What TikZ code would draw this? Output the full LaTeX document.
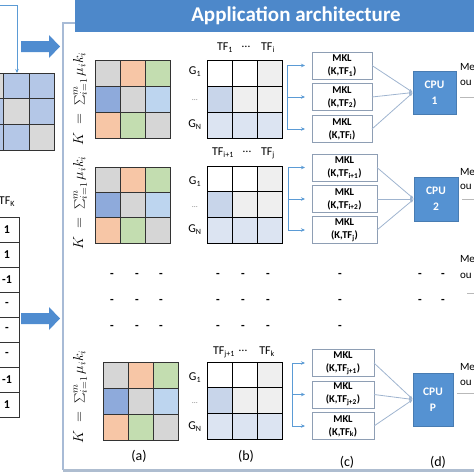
\documentclass[tikz,border=0pt]{standalone}
\usepackage{fontspec}
\setmainfont{Carlito}
\usetikzlibrary{arrows.meta}
\definecolor{barblue}{HTML}{4D88CA}
\definecolor{cpublue}{HTML}{5592D2}
\definecolor{arrowblue}{HTML}{4F8CD0}
\definecolor{framec}{HTML}{A8BBD6}
\definecolor{framebot}{HTML}{AEBDD0}
\definecolor{cgray}{HTML}{D6D6D6}
\definecolor{corange}{HTML}{F7C6A6}
\definecolor{cgreen}{HTML}{C3DDB0}
\definecolor{cblue}{HTML}{8EAADB}
\definecolor{clblue}{HTML}{BDD5EF}
\definecolor{tgray}{HTML}{EFEFEF}
\definecolor{tblue}{HTML}{C8D5EA}
\definecolor{tlblue}{HTML}{DCE4F2}
\definecolor{lgray}{HTML}{D9D9D9}
\definecolor{lblue}{HTML}{B4C7E7}
\definecolor{linkc}{HTML}{5B9BD5}
\definecolor{convc}{HTML}{9FB4CF}
\definecolor{mklc}{HTML}{8E9EB4}
\newcommand\mygrid[6]{%
  \foreach \cl [count=\n from 0] in #5{%
    \pgfmathtruncatemacro\cc{mod(\n,3)}%
    \pgfmathtruncatemacro\rr{div(\n,3)}%
    \filldraw[fill=\cl, draw=#6, line width=0.9pt] ({#1+\cc*#3},{#2+\rr*#4}) rectangle ++(#3,#4);
  }%
}
\def\kcols{cgray,corange,cgreen,cblue,cgray,clblue,corange,cgreen,cgray}
\def\tcols{white,white,tgray,tblue,tgray,tgray,tlblue,tlblue,tlblue}
\def\lcols{lgray,lblue,lblue,lblue,lgray,lblue,lblue,lblue,lgray}
\tikzset{
  every node/.style={inner sep=0pt, outer sep=0pt},
  mkl/.style={draw=mklc, line width=0.8pt, fill=white, minimum height=27pt, align=center, font=\fontsize{10.5}{13}\selectfont\bfseries},
  cpu/.style={draw=cpublue!85!black, line width=0.6pt, fill=cpublue, text=white, align=center, font=\fontsize{11.5}{16}\selectfont\bfseries},
  lab/.style={font=\fontsize{12}{14}\selectfont},
  gdots/.style={font=\fontsize{8}{9}\selectfont, text=gray},
  capt/.style={font=\fontsize{14}{16}\selectfont},
  dashmark/.style={font=\fontsize{12}{14}\selectfont\bfseries},
  outtext/.style={anchor=west, font=\fontsize{11}{13}\selectfont},
  tabval/.style={font=\fontsize{12}{14}\selectfont\bfseries},
  feed/.style={draw=linkc, line width=0.6pt, -{Stealth[length=4pt,width=3.5pt]}, shorten >=7pt},
  brk/.style={draw=linkc, line width=0.6pt},
  conv/.style={draw=convc, line width=0.8pt, -{Latex[length=4pt,width=3pt]}},
  outl/.style={draw=gray!55, line width=0.8pt},
  formula/.style={rotate=90, font=\fontsize{14.5}{16}\selectfont},
}
\begin{document}
\begin{tikzpicture}[x=1pt,y=-1pt]
\useasboundingbox (0,0) rectangle (474,474);
\clip (0,0) rectangle (474,474);
% title bar and frame
\fill[barblue] (75,-2) rectangle (480,32);
\node[text=white, font=\fontsize{21}{24}\selectfont\bfseries] (title) at (296,16) {Application architecture};
\draw[framec, line width=1.2pt] (75,23) -- (63,23) -- (63,470);
\draw[framebot, line width=3pt] (63,470) -- (480,470);
% left part
\coordinate (lt) at (-2,5);
\coordinate (lg) at (17,73);
\draw[linkc, line width=0.7pt, -{Stealth[length=4pt,width=3.5pt]}] (lt) -| (lg);
\mygrid{-22}{73}{25.5}{25.7}{\lcols}{black!80}
\node[lab] (tfk) at (7,202) {TF\textsubscript{K}};
\foreach \v [count=\r from 0] in {1,1,-1,-,-,-,-1,1}{
  \draw[black!80, line width=0.8pt] (-30,{217+25*\r}) rectangle (19,{242+25*\r});
  \node[tabval] (tv\r) at (7,{229.5+25*\r}) {\v};
}
\fill[arrowblue] (21,41) -- (49,41) -- (49,35) -- (60,46.5) -- (49,58) -- (49,52) -- (21,52) -- cycle;
\fill[arrowblue] (21,313) -- (49,313) -- (49,307) -- (60,318.5) -- (49,330) -- (49,324) -- (21,324) -- cycle;
% ---------- row 1
\node[formula] (f1) at (80,99) {$K\;=\;\sum_{i=1}^{m}\mu_i k_i$};
\mygrid{95}{60}{25}{26}{\kcols}{black!80}
\mygrid{207}{60}{25.3}{26}{\tcols}{black}
\node[lab] (t1a) at (225,48) {TF\textsubscript{1}};
\node[lab] (t1b) at (246,47) {\ldots};
\node[lab] (t1c) at (268,48) {TF\textsubscript{i}};
\node[lab] (g1a) at (195,72) {G\textsubscript{1}};
\node[gdots] (g1b) at (195,100) {\ldots};
\node[lab] (g1c) at (195,125) {G\textsubscript{N}};
\node[mkl, minimum width=60pt] (m11) at (342,65.5) {MKL\\(K,TF\textsubscript{1})};
\node[mkl, minimum width=60pt] (m12) at (342,97) {MKL\\(K,TF\textsubscript{2})};
\node[mkl, minimum width=60pt] (m13) at (342,129) {MKL\\(K,TF\textsubscript{i})};
\node[cpu, minimum width=43pt, minimum height=43pt] (c1) at (434.5,92.5) {CPU\\1};
\foreach \k in {1,2,3}{
  \path (m1\k.west) ++(-25,0) coordinate (b1\k);
  \draw[feed] (b1\k) -- (m1\k.west);
  \draw[conv] (m1\k.east) -- (c1.west);
}
\draw[brk] (b11) -- (b13);
\node[outtext] (e1a) at (460,67) {Me};
\node[outtext] (e1b) at (460,83) {ou};
\coordinate (o1) at (476,97);
\draw[outl, shorten <=4pt] (c1.east |- o1) -- (o1);
% ---------- row 2
\node[formula] (f2) at (80,203) {$K\;=\;\sum_{i=1}^{m}\mu_i k_i$};
\mygrid{95}{167}{25}{25.4}{\kcols}{black!80}
\mygrid{207}{166}{25.3}{25.7}{\tcols}{black}
\node[lab] (t2a) at (223,153) {TF\textsubscript{i+1}};
\node[lab] (t2b) at (247,152) {\ldots};
\node[lab] (t2c) at (268,153) {TF\textsubscript{j}};
\node[lab] (g2a) at (195,182) {G\textsubscript{1}};
\node[gdots] (g2b) at (195,207) {\ldots};
\node[lab] (g2c) at (195,230) {G\textsubscript{N}};
\node[mkl, minimum width=65pt] (m21) at (344.5,167.5) {MKL\\(K,TF\textsubscript{i+1})};
\node[mkl, minimum width=65pt] (m22) at (344.5,199) {MKL\\(K,TF\textsubscript{i+2})};
\node[mkl, minimum width=65pt] (m23) at (344.5,230) {MKL\\(K,TF\textsubscript{j})};
\node[cpu, minimum width=44pt, minimum height=44pt] (c2) at (436,199) {CPU\\2};
\foreach \k in {1,2,3}{
  \path (m2\k.west) ++(-24,0) coordinate (b2\k);
  \draw[feed] (b2\k) -- (m2\k.west);
  \draw[conv] (m2\k.east) -- (c2.west);
}
\draw[brk] (b21) -- (b23);
\node[outtext] (e2a) at (460,172) {Me};
\node[outtext] (e2b) at (460,187) {ou};
\coordinate (o2) at (476,199);
\draw[outl, shorten <=4pt] (c2.east |- o2) -- (o2);
% ---------- dots row
\foreach \x in {112,137,161,218,243,268,340}{
  \foreach \y in {275,301,327}{
    \node[dashmark] at (\x,\y) {-};
  }
}
\foreach \x in {420,443}{
  \foreach \y in {275,301}{
    \node[dashmark] at (\x,\y) {-};
  }
}
\node[outtext] (e3a) at (460,259) {Me};
\node[outtext] (e3b) at (460,276) {ou};
\coordinate (o3s) at (467,293);
\coordinate (o3) at (476,293);
\draw[outl] (o3s) -- (o3);
% ---------- row P
\node[formula] (f3) at (80,397) {$K\;=\;\sum_{i=1}^{m}\mu_i k_i$};
\mygrid{103}{362}{25}{26}{\kcols}{black!80}
\mygrid{207}{362}{25.3}{25.7}{\tcols}{black}
\node[lab] (t3a) at (224,352) {TF\textsubscript{j+1}};
\node[lab] (t3b) at (243,351) {\ldots};
\node[lab] (t3c) at (267,352) {TF\textsubscript{k}};
\node[lab] (g3a) at (195,378) {G\textsubscript{1}};
\node[gdots] (g3b) at (195,403) {\ldots};
\node[lab] (g3c) at (195,427) {G\textsubscript{N}};
\node[mkl, minimum width=62pt] (m31) at (343,363) {MKL\\(K,TF\textsubscript{j+1})};
\node[mkl, minimum width=62pt] (m32) at (343,394.5) {MKL\\(K,TF\textsubscript{j+2})};
\node[mkl, minimum width=62pt] (m33) at (343,426) {MKL\\(K,TF\textsubscript{k})};
\node[cpu, minimum width=40pt, minimum height=53pt] (c3) at (433,399.5) {CPU\\P};
\foreach \k in {1,2,3}{
  \path (m3\k.west) ++(-20,0) coordinate (b3\k);
  \draw[feed] (b3\k) -- (m3\k.west);
  \draw[conv] (m3\k.east) -- (c3.west);
}
\draw[brk] (b31) -- (b33);
\node[outtext] (e4a) at (460,367) {Me};
\node[outtext] (e4b) at (460,383) {ou};
\coordinate (o4) at (476,393);
\draw[outl, shorten <=4pt] (c3.east |- o4) -- (o4);
% captions
\node[capt] (ca) at (139,456) {(a)};
\node[capt] (cb) at (246,456) {(b)};
\node[capt] (cc) at (347,462) {(c)};
\node[capt] (cd) at (438,462) {(d)};
\end{tikzpicture}
\end{document}
